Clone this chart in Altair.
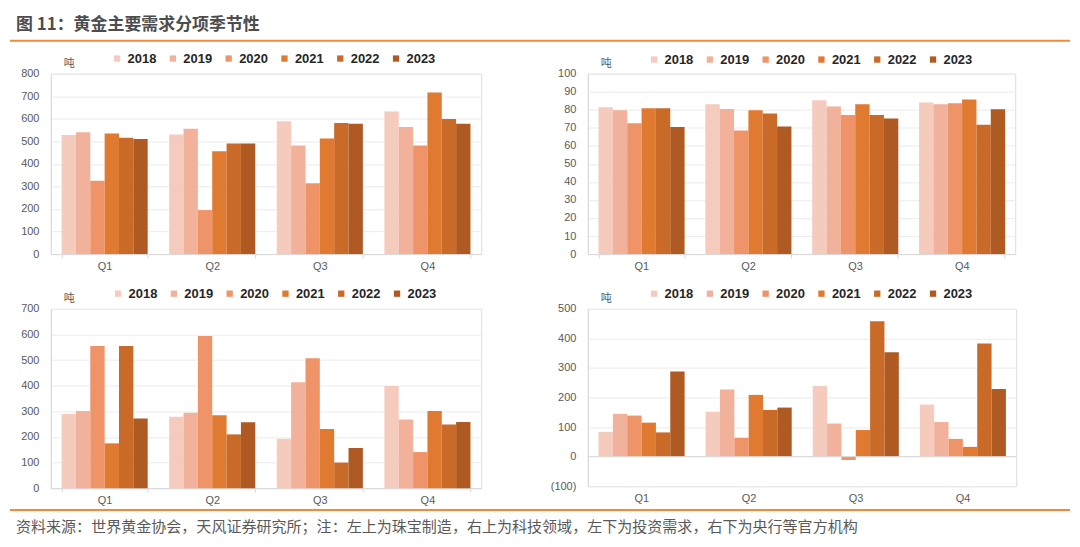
import altair as alt
import pandas as pd

quarters = ["Q1", "Q2", "Q3", "Q4"]
years = ["2018", "2019", "2020", "2021", "2022", "2023"]
colors = ["#F5CBBE", "#F2B19A", "#EF9468", "#E07A30", "#C96A28", "#AE5A22"]

# values per quarter, ordered by year 2018..2023 (tonnes)
jewelry = [
    [528, 540, 325, 535, 516, 510],
    [531, 556, 195, 456, 490, 490],
    [589, 482, 314, 513, 581, 578],
    [633, 564, 482, 717, 599, 578],
]
technology = [
    [81.4, 79.7, 72.6, 80.8, 80.8, 70.4],
    [83.1, 80.4, 68.5, 79.7, 78.0, 70.8],
    [85.3, 81.8, 77.1, 83.1, 77.1, 75.2],
    [84.0, 83.1, 83.6, 85.7, 71.7, 80.3],
]
investment = [
    [290, 301, 555, 175, 555, 272],
    [279, 294, 594, 285, 210, 257],
    [193, 414, 507, 231, 100, 157],
    [399, 268, 141, 301, 249, 258],
]
central_banks = [
    [84, 145, 139, 115, 82, 288],
    [152, 227, 64, 209, 158, 166],
    [239, 112, -11, 90, 458, 353],
    [176, 117, 60, 33, 383, 229],
]

title_text = "图 11：黄金主要需求分项季节性"
footer_text = ("资料来源：世界黄金协会，天风证券研究所；注：左上为珠宝制造，右上为科技领域，"
               "左下为投资需求，右下为央行等官方机构")
unit_text = "吨"

ORANGE = "#F08B3C"
AXIS_GRAY = "#D9D9D9"
GRID_GRAY = "#EBEBEB"
LABEL_GRAY = "#595959"
LATIN = "Liberation Sans"
CJK = "Noto Sans CJK SC"


def long_df(values):
    rows = []
    for qi, q in enumerate(quarters):
        for yi, y in enumerate(years):
            rows.append({"q": q, "yr": y, "v": values[qi][yi]})
    return pd.DataFrame(rows)


def one_row():
    return pd.DataFrame({"k": [0]})


def panel(values, ymin, ymax, step, lx, ly, ux, neg=False):
    df = long_df(values)
    yaxis = dict(
        values=list(range(ymin, ymax + 1, step)),
        title=None, ticks=False, tickSize=0, labelPadding=12,
        labelOverlap=False, labelFlush=False,
        labelFont=LATIN, labelFontSize=11, labelColor=LABEL_GRAY,
        domainColor=AXIS_GRAY, gridColor=GRID_GRAY, gridWidth=1,
    )
    if neg:
        yaxis["labelExpr"] = "datum.value < 0 ? '(' + (-datum.value) + ')' : datum.label"
    xaxis = dict(
        title=None, labelAngle=0, tickBand="extent", tickSize=4,
        tickColor=AXIS_GRAY, domainColor=AXIS_GRAY, labelPadding=2,
        labelFont=LATIN, labelFontSize=11, labelColor=LABEL_GRAY, grid=False,
    )
    if neg:
        xaxis["domain"] = False
        xaxis["ticks"] = False
        xaxis["labelPadding"] = 6
    yscale = alt.Scale(domain=[ymin, ymax], nice=False)
    bars = alt.Chart(df).mark_bar().encode(
        x=alt.X("q:N", sort=quarters,
                scale=alt.Scale(paddingInner=0.2, paddingOuter=0.1),
                axis=alt.Axis(**xaxis)),
        xOffset=alt.XOffset("yr:N", sort=years,
                            scale=alt.Scale(paddingInner=0, paddingOuter=0)),
        y=alt.Y("v:Q", scale=yscale, axis=alt.Axis(**yaxis)),
        color=alt.Color("yr:N", sort=years,
                        scale=alt.Scale(domain=years, range=colors),
                        legend=alt.Legend(
                            title=None, orient="none", legendX=lx, legendY=ly,
                            direction="horizontal", columns=6,
                            symbolType="square", symbolSize=40,
                            symbolStrokeWidth=0, labelOffset=4,
                            columnPadding=10, padding=0,
                            labelFont=LATIN, labelFontSize=13,
                            labelFontWeight="bold", labelColor="#262626")),
    )
    unit = alt.Chart(pd.DataFrame({"u": [unit_text]})).mark_text(
        font=CJK, fontSize=11, color=LABEL_GRAY, align="left", baseline="middle"
    ).encode(text="u:N", x=alt.value(ux), y=alt.value(-10))
    layers = [bars, unit]
    if neg:
        zero = alt.Chart(pd.DataFrame({"v": [0]})).mark_rule(
            color=AXIS_GRAY, strokeWidth=1).encode(
            y=alt.Y("v:Q", scale=yscale, axis=alt.Axis(**yaxis)))
        layers.append(zero)
    return layers


tl_layers = panel(jewelry, 0, 800, 100, 60, -22, 13)
header_anchor = alt.Chart(one_row()).mark_rule(strokeOpacity=0, strokeWidth=1).encode(
    x=alt.value(-41), x2=alt.value(1023), y=alt.value(-64))
header_line = alt.Chart(one_row()).mark_rule(color=ORANGE, strokeWidth=2).encode(
    x=alt.value(-41), x2=alt.value(1023), y=alt.value(-33))
header_title = alt.Chart(pd.DataFrame({"t": [title_text]})).mark_text(
    font=CJK, fontSize=17, fontWeight="bold", color="#4D4D4D",
    align="left", baseline="middle"
).encode(text="t:N", x=alt.value(-35), y=alt.value(-49))
tl = alt.layer(*tl_layers, header_anchor, header_line, header_title).properties(
    width=432, height=181)

tr = alt.layer(*panel(technology, 0, 100, 10, 60, -21, 13)).properties(
    width=429, height=181)

bl_layers = panel(investment, 0, 700, 100, 61, -22, 13)
footer_line = alt.Chart(one_row()).mark_rule(color=ORANGE, strokeWidth=2).encode(
    x=alt.value(-41), x2=alt.value(1023), y=alt.value(202))
footer = alt.Chart(pd.DataFrame({"t": [footer_text]})).mark_text(
    font=CJK, fontSize=15.1, color=LABEL_GRAY, align="left", baseline="middle"
).encode(text="t:N", x=alt.value(-35), y=alt.value(219))
bl = alt.layer(*bl_layers, footer_line, footer).properties(width=432, height=180)

br = alt.layer(*panel(central_banks, -100, 500, 100, 60, -22, 13, neg=True)).properties(
    width=430, height=178)

chart = alt.concat(
    tl, tr, bl, br, columns=2,
    spacing={"row": 55, "column": 107}, bounds="flush"
).resolve_scale(color="independent").resolve_legend(color="independent").properties(
    padding=0
).configure_view(stroke=None).configure(background="white")

chart.save("out.html", embed_options={"renderer": "svg", "actions": False})
